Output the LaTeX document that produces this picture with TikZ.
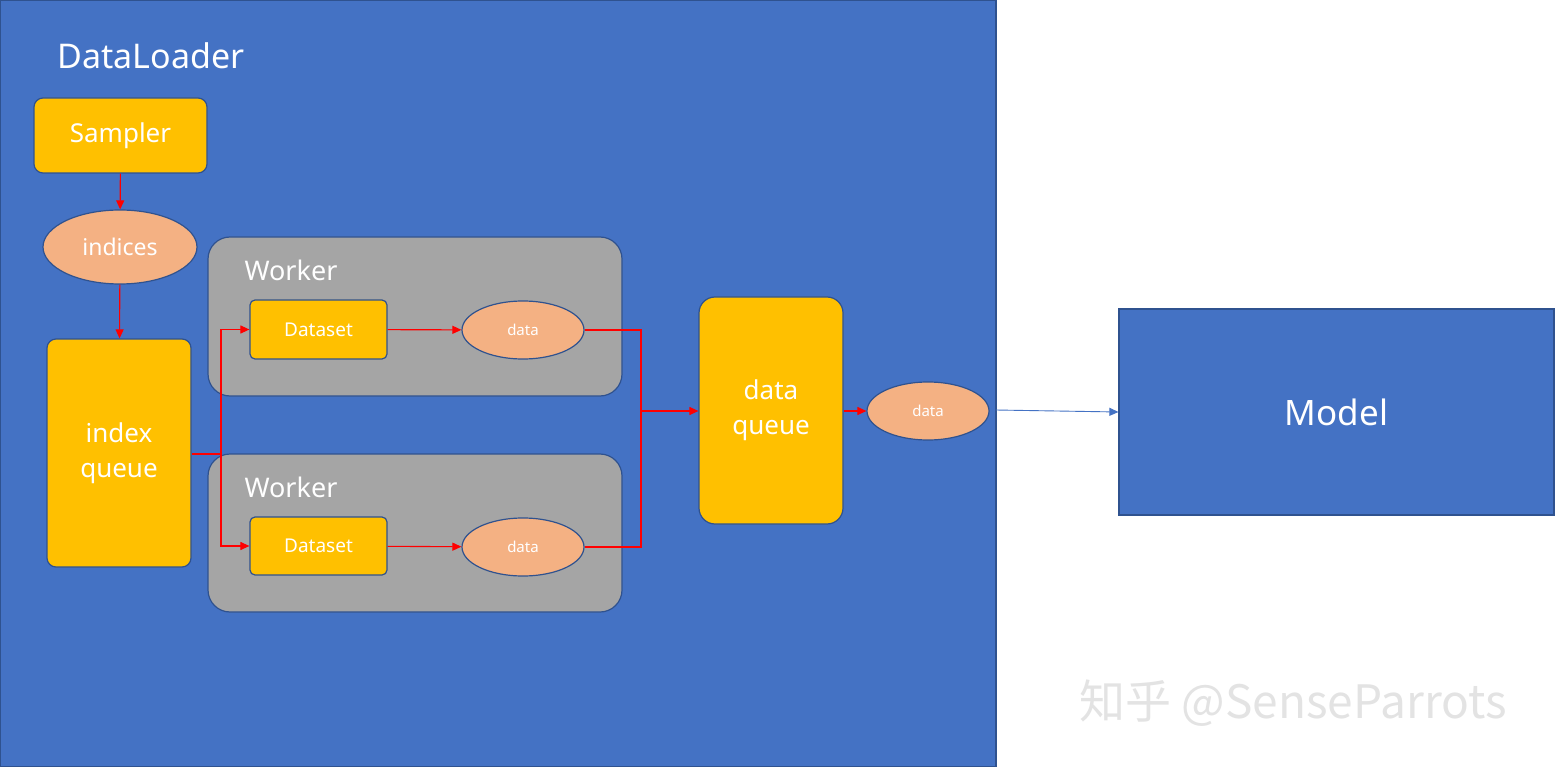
\documentclass[tikz,border=0pt]{standalone}
\usepackage{fontspec}
\setmainfont{Noto Sans}
\newfontfamily\cjk{Noto Sans CJK SC}
\usetikzlibrary{arrows.meta,shapes.geometric}
\definecolor{blu}{HTML}{4472C4}
\definecolor{bord}{HTML}{2F528F}
\definecolor{gold}{HTML}{FFC000}
\definecolor{peach}{HTML}{F4B183}
\definecolor{grayb}{HTML}{A5A5A5}
\tikzset{x=1pt,y=-1pt,
 box/.style={draw=bord,line width=1.2pt,rounded corners=9pt,fill=gold,text=white,align=center,inner sep=0},
 ell/.style={draw=bord,line width=1.2pt,ellipse,fill=peach,text=white,inner sep=0},
 wk/.style={draw=bord,line width=1.2pt,rounded corners=22pt,fill=grayb},
 ra/.style={draw=red,line width=1.1pt,-{Triangle[length=9pt,width=8pt]}},
 rl/.style={draw=red,line width=1.1pt}}
\begin{document}
\begin{tikzpicture}
\useasboundingbox (0,0) rectangle (1555,767);
\fill[white] (0,0) rectangle (1555,767);
\draw[fill=blu,draw=bord,line width=1.2pt] (0.6,0.6) rectangle (996,766.4);
\node[anchor=west,text=white,font=\fontsize{34}{40}\selectfont] (dl) at (54,56) {DataLoader};
\node[box,minimum width=173pt,minimum height=75pt,font=\fontsize{26}{30}\selectfont] (s) at (120.5,135.5) {Sampler};
\node[ell,minimum width=154pt,minimum height=74pt,font=\fontsize{23}{27}\selectfont] (ind) at (120,247) {indices};
\node[box,minimum width=144pt,minimum height=228pt,font=\fontsize{26}{35}\selectfont] (iq) at (119,453) {index\\queue};
\node[wk,minimum width=414pt,minimum height=159pt] (w1) at (415,316.5) {};
\node[wk,minimum width=414pt,minimum height=158pt] (w2) at (415,533) {};
\node[anchor=west,font=\fontsize{27}{30}\selectfont,text=white] (wt1) at (241,270) {Worker};
\node[anchor=west,font=\fontsize{27}{30}\selectfont,text=white] (wt2) at (241,487) {Worker};
\node[box,rounded corners=5pt,minimum width=137pt,minimum height=59pt,font=\fontsize{19}{22}\selectfont] (d1) at (318.5,329.5) {Dataset};
\node[box,rounded corners=5pt,minimum width=137pt,minimum height=58pt,font=\fontsize{19}{22}\selectfont] (d2) at (318.5,546) {Dataset};
\node[ell,minimum width=122pt,minimum height=58pt,font=\fontsize{15}{18}\selectfont] (e1) at (523,330) {data};
\node[ell,minimum width=122pt,minimum height=58pt,font=\fontsize{15}{18}\selectfont] (e2) at (523,547) {data};
\node[box,rounded corners=16pt,minimum width=144pt,minimum height=227pt,font=\fontsize{26}{35}\selectfont] (dq) at (771,410.5) {data\\queue};
\node[ell,minimum width=122pt,minimum height=58pt,font=\fontsize{15}{18}\selectfont] (e3) at (928,411) {data};
\node[draw=bord,line width=1.2pt,fill=blu,text=white,minimum width=435pt,minimum height=206pt,font=\fontsize{35}{40}\selectfont] (m) at (1336.5,412) {Model};
\coordinate (j1) at (221,454);
\coordinate (j2) at (641,411);
\draw[ra] (s) -- (ind);
\draw[ra] (ind) -- (iq);
\draw[rl] (iq.east |- j1) -- (j1);
\draw[ra] (j1) |- (d1.west);
\draw[ra] (j1) |- (d2.west);
\draw[ra] (d1) -- (e1);
\draw[ra] (d2) -- (e2);
\draw[rl] (e1.east) -| (j2);
\draw[rl] (e2.east) -| (j2);
\draw[ra] (j2) -- (dq.west |- j2);
\draw[ra] (dq.east |- e3) -- (e3);
\draw[draw=blu,line width=0.9pt,-{Triangle[length=9pt,width=8pt]}] (e3.east) ++(6,-1) -- (m.west);
\node[anchor=west,text=gray!22,font=\cjk\fontsize{46}{52}\selectfont] (wm) at (1076,703) {知乎 @SenseParrots};
\end{tikzpicture}
\end{document}
